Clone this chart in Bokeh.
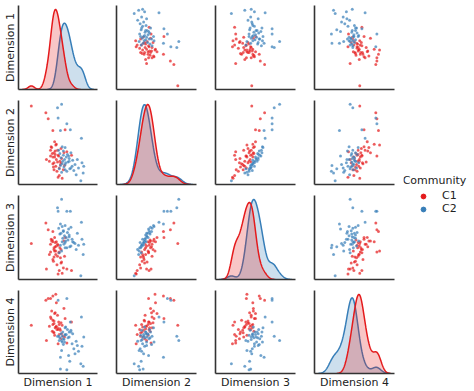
import numpy as np
from bokeh.plotting import figure
from bokeh.layouts import row, column
from bokeh.models import Legend, LegendItem, FixedTicker, Range1d, Label
from bokeh.embed import file_html
from bokeh.resources import INLINE

dim_labels = ["Dimension 1", "Dimension 2", "Dimension 3", "Dimension 4"]
communities = ["C1", "C2"]
legend_title = "Community"

c1_dim1 = [5,30,34,42,63,45,40,38,44,47,52,36,50,55,43,57,49,60,53,66,58,51,31,74,46,42,48,44,41,54,47,39,56,50,45,53,61,42,48,56,44,51,62,46,38]
c1_dim2 = [93,85,78,64,65,51,44,41,38,47,34,28,41,24,21,31,16,18,11,39,8,9,30,35,36,33,30,26,37,28,22,45,43,27,33,20,38,25,48,26,18,35,23,40,34]
c1_dim3 = [43,67,59,57,50,50,46,42,38,34,32,30,28,26,22,21,18,14,11,13,8,7,13,11,44,45,40,36,47,38,30,48,36,42,34,33,46,24,45,20,27,41,28,39,33]
c1_dim4 = [58,88,90,93,66,72,75,68,60,95,62,57,55,52,50,48,53,45,47,37,58,36,40,62,55,59,57,63,51,54,56,66,61,70,46,59,78,64,85,42,49,53,44,73,90]

c2_dim1 = [57,50,51,66,72,91,55,63,73,52,60,84,70,56,92,80,95,73,63,57,94,53,90,65,68,62,58,75,67,61,78,64,70,59,82,66,55,69,60,76,54,71,63,58,86]
c2_dim2 = [95,91,79,72,65,55,64,44,38,41,35,30,28,32,26,24,22,20,18,15,14,19,5,33,27,30,25,22,36,21,17,26,31,28,12,16,23,34,40,29,37,19,24,45,20]
c2_dim3 = [95,85,81,81,81,68,66,64,62,61,58,55,53,55,48,43,42,40,38,34,30,32,5,50,47,52,45,48,56,42,44,46,51,49,36,38,41,60,57,45,54,39,44,63,41]
c2_dim4 = [40,45,88,90,62,68,20,55,50,45,42,34,50,48,33,24,44,52,46,28,9,40,12,47,43,38,45,36,53,41,30,56,44,50,39,5,6,22,35,48,43,15,47,38,27]

data = {
    "C1": [np.array(c1_dim1, float), np.array(c1_dim2, float), np.array(c1_dim3, float), np.array(c1_dim4, float)],
    "C2": [np.array(c2_dim1, float), np.array(c2_dim2, float), np.array(c2_dim3, float), np.array(c2_dim4, float)],
}
colors = {"C1": "#e41a1c", "C2": "#377eb8"}
FONT = "DejaVu Sans"
SPINE = "#333333"
TEXT = "#222222"

n_total = sum(len(data[c][0]) for c in communities)

def kde_curve(v):
    n = len(v)
    bw = v.std(ddof=1) * n ** (-1.0 / 5.0)
    grid = np.linspace(v.min() - 3 * bw, v.max() + 3 * bw, 200)
    dens = np.exp(-0.5 * ((grid[:, None] - v[None, :]) / bw) ** 2).sum(1) / (n * bw * np.sqrt(2 * np.pi))
    return grid, dens * n / n_total

curves = {}
x_ranges, y_ranges, diag_ranges = [], [], []
for k in range(4):
    lo_s, hi_s, top = np.inf, -np.inf, 0
    for c in communities:
        g, d = kde_curve(data[c][k])
        curves[(c, k)] = (g, d)
        lo_s, hi_s, top = min(lo_s, g[0]), max(hi_s, g[-1]), max(top, d.max())
    pad = 0.05 * (hi_s - lo_s)
    x_ranges.append(Range1d(lo_s - pad, hi_s + pad))
    allv = np.concatenate([data[c][k] for c in communities])
    pad = 0.05 * (allv.max() - allv.min())
    y_ranges.append(Range1d(allv.min() - pad, allv.max() + pad))
    diag_ranges.append(Range1d(0, top * 1.05))

LEFT = [17, 10, 10, 10]
RIGHT = [9, 9, 9, 9]
TOP = [5, 5, 5, 5]
BOTTOM = [6, 6, 6, 17]
FW, FH = 80, 84

def style_axis(ax, label):
    ax.ticker = FixedTicker(ticks=[])
    ax.major_tick_out = 0
    ax.major_tick_in = 0
    ax.minor_tick_out = 0
    ax.minor_tick_in = 0
    ax.major_label_standoff = 0
    ax.axis_line_color = SPINE
    ax.axis_line_width = 1.6
    if label:
        ax.axis_label = label
        ax.axis_label_standoff = 2
        ax.axis_label_text_font = FONT
        ax.axis_label_text_font_size = "11px"
        ax.axis_label_text_font_style = "normal"
        ax.axis_label_text_color = TEXT

rows = []
for i in range(4):
    figs = []
    for j in range(4):
        p = figure(width=LEFT[j] + FW + RIGHT[j], height=TOP[i] + FH + BOTTOM[i],
                   x_range=x_ranges[j], y_range=(diag_ranges[i] if i == j else y_ranges[i]),
                   min_border_left=LEFT[j], min_border_right=RIGHT[j],
                   min_border_top=TOP[i], min_border_bottom=BOTTOM[i],
                   toolbar_location=None, output_backend="svg",
                   outline_line_color=None, background_fill_color="white",
                   border_fill_color="white")
        p.grid.visible = False
        style_axis(p.xaxis[0], dim_labels[j] if i == 3 else None)
        style_axis(p.yaxis[0], dim_labels[i] if j == 0 else None)
        if i == j:
            for c in reversed(communities):
                g, d = curves[(c, i)]
                p.varea(x=g, y1=np.zeros_like(d), y2=d, fill_color=colors[c], fill_alpha=0.25)
                p.line(x=g, y=d, line_color=colors[c], line_width=1.5)
        else:
            for c in communities:
                p.scatter(x=data[c][j], y=data[c][i], size=3.0, fill_color=colors[c],
                          fill_alpha=0.72, line_color="white", line_width=0.2, line_alpha=0.5)
        figs.append(p)
    rows.append(row(*figs, spacing=0))
grid = column(*rows, spacing=0)

total_h = sum(TOP[i] + FH + BOTTOM[i] for i in range(4))
LW = 71
lg = figure(width=LW, height=total_h, x_range=Range1d(0, LW), y_range=Range1d(0, total_h),
            min_border=0, toolbar_location=None, output_backend="svg",
            outline_line_color=None, x_axis_type=None, y_axis_type=None)
lg.grid.visible = False
items = []
for c in communities:
    r = lg.scatter(x=[np.nan], y=[np.nan], size=6, fill_color=colors[c], line_color=colors[c])
    items.append(LegendItem(label=c, renderers=[r]))
legend = Legend(items=items, location=(13, total_h - 215), orientation="vertical",
                padding=0, margin=0, spacing=0, glyph_width=14, glyph_height=12,
                label_height=12, label_standoff=12, border_line_color=None,
                background_fill_alpha=0, label_text_font=FONT,
                label_text_font_size="11px", label_text_color=TEXT)
lg.add_layout(legend, "center")
lg.add_layout(Label(x=31, y=total_h - 180, text=legend_title, text_align="center",
                    text_baseline="middle", text_font=FONT, text_font_size="11px",
                    text_color=TEXT))

p = row(grid, lg, spacing=0)
open("out.html", "w").write(file_html(p, INLINE))
